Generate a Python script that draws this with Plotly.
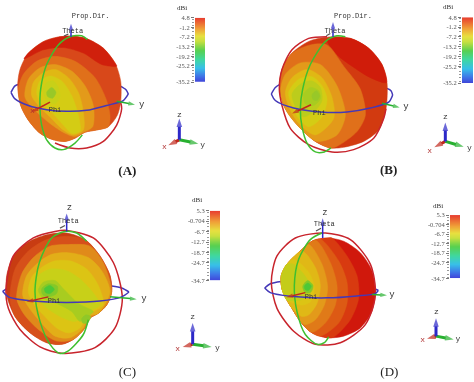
import plotly.graph_objects as go

# ---------- Gain scale (dBi) ----------
GAIN_TICKS_AB = [4.8, -1.2, -7.2, -13.2, -19.2, -25.2, -35.2]
GAIN_LABELS_AB = ["4.8", "-1.2", "-7.2", "-13.2", "-19.2", "-25.2", "-35.2"]
GAIN_TICKS_CD = [5.3, -0.704, -6.7, -12.7, -18.7, -24.7, -34.7]
GAIN_LABELS_CD = ["5.3", "-0.704", "-6.7", "-12.7", "-18.7", "-24.7", "-34.7"]
MEAN_MARK_AB = -20.2
MEAN_MARK_CD = -17.2

# ---------- Pattern outlines and iso-gain contours, per panel ----------
A_BODY = [(210,98),(260,106),(310,135),(345,180),(362,235),(362,300),(352,340),(325,375),(290,385),(255,392),(225,410),(195,420),(160,415),(120,395),(85,355),(62,310),(53,250),(60,200),(85,150),(130,115),(170,102)]
A_BANDS = [
 [(72,168),(130,140),(190,133),(250,150),(305,185),(350,190),(345,180),(310,135),(260,106),(210,98),(170,102),(130,115),(85,150)],
 [(55,260),(70,215),(110,175),(165,160),(225,175),(285,225),(318,290),(330,340),(325,375),(290,385),(255,392),(225,410),(195,420),(160,415),(120,395),(85,355),(62,310)],
 [(75,285),(85,230),(120,195),(165,185),(215,205),(255,250),(280,310),(278,375),(255,390),(225,405),(195,395),(150,365),(105,325)],
 [(95,280),(100,240),(130,210),(165,200),(205,225),(235,270),(250,330),(250,385),(220,400),(190,385),(150,345),(115,310)],
 [(110,270),(120,235),(150,220),(185,235),(215,280),(235,340),(240,390),(215,395),(190,370),(150,325),(120,300)],
 [(130,265),(140,240),(160,235),(175,255),(180,285),(165,305),(140,295)],
 [(140,270),(155,255),(168,270),(158,288),(143,283)],
]
A_BAND_GAINS = [3.8, 0.5, -2.5, -5.5, -8.0, -11.0, -13.5]

B_BODY = [(285,100),(340,105),(395,135),(435,185),(450,240),(447,320),(425,385),(380,420),(320,438),(280,440),(235,420),(195,385),(165,350),(140,310),(128,250),(135,200),(165,150),(220,112)]
B_BANDS = [
 [(270,108),(340,105),(395,135),(435,185),(448,240),(400,225),(345,190),(300,155)],
 [(128,255),(135,200),(165,150),(220,125),(270,125),(320,190),(370,260),(385,340),(360,390),(300,435),(280,440),(235,420),(195,385),(165,350),(140,310)],
 [(130,270),(145,215),(190,180),(250,185),(300,250),(325,340),(300,400),(240,420),(195,385),(150,330)],
 [(145,270),(165,225),(210,200),(255,225),(285,285),(290,350),(235,400),(190,370),(160,325)],
 [(155,270),(185,230),(225,222),(255,250),(270,290),(255,345),(215,375),(185,350),(165,310)],
 [(165,275),(190,245),(225,235),(250,255),(255,295),(235,325),(200,345),(178,320)],
 [(200,275),(220,255),(245,265),(250,290),(230,310),(205,305)],
 [(225,278),(238,265),(248,280),(240,295),(228,292)],
]
B_BAND_GAINS = [4.3, 0.5, -2.5, -5.5, -8.0, -10.0, -12.0, -13.5]

C_BODY = [(200,130),(255,150),(300,200),(330,260),(335,310),(320,350),(295,375),(270,390),(255,420),(220,455),(185,470),(140,465),(90,435),(45,385),(20,320),(20,260),(40,200),(80,160),(140,135)]
C_BANDS = [
 [(30,330),(45,240),(85,185),(140,150),(200,140),(255,150),(300,200),(330,260),(335,310),(320,350),(295,375),(270,390),(255,420),(220,455),(185,470),(140,465),(90,435),(45,385)],
 [(50,330),(65,255),(100,205),(150,170),(205,165),(270,170),(310,220),(335,310),(320,350),(295,375),(270,390),(255,420),(220,455),(170,460),(110,420),(70,375)],
 [(68,320),(80,260),(115,220),(155,195),(205,190),(265,205),(305,245),(330,310),(295,375),(265,385),(250,420),(210,450),(165,445),(120,400),(85,355)],
 [(85,310),(95,265),(125,235),(165,215),(210,215),(260,240),(295,290),(310,350),(280,370),(260,385),(240,420),(205,435),(170,420),(130,380),(100,345)],
 [(100,305),(110,265),(150,240),(200,245),(240,270),(285,320),(300,350),(265,370),(240,395),(220,400),(180,385),(130,350)],
 [(115,305),(130,280),(165,275),(190,300),(235,345),(280,370),(262,385),(240,400),(215,370),(170,345),(130,330)],
 [(245,392),(258,380),(272,385),(262,405),(248,405)],
 [(125,300),(145,285),(172,292),(170,315),(145,325),(128,318)],
 [(133,300),(150,290),(163,302),(150,315),(137,312)],
]
C_BAND_GAINS = [1.5, -2.0, -4.5, -7.0, -9.5, -11.5, -13.0, -14.0, -18.0]

D_BODY = [(270,145),(320,155),(370,190),(405,245),(415,310),(405,370),(370,420),(320,445),(270,450),(225,435),(190,400),(165,360),(150,335),(135,300),(133,260),(150,225),(185,190),(225,155)]
D_BANDS = [
 [(285,145),(330,200),(360,260),(365,330),(340,395),(290,448),(270,450),(225,435),(190,400),(165,360),(150,335),(135,300),(133,260),(150,225),(185,190),(225,155),(270,145)],
 [(250,148),(305,215),(330,280),(330,345),(305,405),(250,445),(225,435),(190,400),(165,360),(150,335),(135,300),(133,260),(150,225),(185,190),(225,155)],
 [(235,152),(280,220),(300,290),(295,350),(265,405),(225,433),(190,400),(165,360),(150,335),(135,300),(133,260),(150,225),(185,190)],
 [(215,165),(255,225),(272,295),(262,350),(235,395),(205,410),(190,400),(165,360),(150,335),(135,300),(133,260),(150,225),(185,190)],
 [(195,185),(235,235),(250,290),(240,345),(215,380),(195,385),(165,360),(150,335),(135,300),(133,260),(150,225)],
 [(170,210),(215,250),(232,295),(220,340),(195,350),(175,345),(150,335),(135,300),(133,260),(150,225)],
 [(150,225),(133,260),(135,300),(150,335),(190,335),(218,320),(220,290),(200,255),(170,225)],
 [(197,293),(212,275),(228,290),(222,310),(205,312)],
 [(202,293),(212,283),(223,292),(215,305),(205,303)],
]
D_BAND_GAINS = [4.0, 2.0, 0.0, -2.5, -5.0, -7.0, -9.0, -14.0, -18.0]

# ---------- Rings ----------
A_BLUE_BACK = [(33,270),(45,250),(58,245)]
A_BLUE_BACK2 = [(360,250),(378,262),(385,275)]
A_BLUE = [(33,270),(45,290),(85,310),(140,323),(200,328),(260,325),(320,310),(370,295),(385,275)]
A_RED = [(362,300),(365,320),(350,370),(310,420),(260,440),(210,440),(165,425)]
A_GREEN = [(247,400),(225,425),(190,445),(165,440),(140,415),(125,370),(120,320),(122,260),(140,185),(175,125),(210,100),(245,97),(262,108)]

B_BLUE_BACK = [(103,275),(115,255),(130,245)]
B_BLUE_BACK2 = [(450,258),(462,265),(467,278)]
B_BLUE = [(103,275),(115,295),(170,318),(250,330),(330,330),(400,318),(455,300),(467,278)]
B_RED = [(270,100),(215,105),(165,140),(135,200),(127,260),(135,310),(160,380),(215,430),(285,452),(350,445),(410,410),(440,350),(447,320)]
B_GREEN = [(282,440),(262,452),(235,452),(210,425),(195,375),(190,320),(197,260),(220,185),(265,115),(300,97),(325,100)]

C_BLUE_BACK = [(8,308),(20,300)]
C_BLUE_BACK2 = [(335,292),(365,298),(387,310)]
C_BLUE = [(8,308),(25,325),(100,338),(200,342),(300,338),(365,325),(387,310)]
C_RED = [(200,122),(280,145),(340,220),(367,330),(345,420),(285,480),(190,498),(120,478),(60,425),(25,360),(18,300),(40,200),(100,145),(165,125),(200,122)]
C_GREEN = [(265,395),(250,440),(205,490),(180,498),(150,470),(120,400),(105,310),(118,220),(155,145),(195,125),(230,130),(260,155)]

D_BLUE_BACK = [(83,298),(100,285),(133,278)]
D_BLUE_BACK2 = [(405,298),(424,305)]
D_BLUE = [(83,298),(100,312),(180,325),(270,328),(360,322),(415,315),(424,305)]
D_RED = [(265,130),(340,150),(400,225),(415,320),(385,410),(310,465),(235,470),(170,430),(120,360),(103,280),(120,200),(175,145),(265,130)]
D_GREEN = [(275,447),(262,465),(240,470),(205,440),(180,370),(172,290),(185,210),(220,150),(255,130)]

# ---------- Axes on the pattern ----------
A_AXES = dict(z=[(213,100),(213,60)], y=[(350,297),(405,308)], x=[(150,300),(95,330)])
B_AXES = dict(z=[(288,100),(288,55)], y=[(435,303),(488,316)], x=[(222,308),(165,335)])
C_AXES = dict(z=[(200,125),(200,70)], y=[(330,325),(410,332)], x=[(145,325),(80,340)])
D_AXES = dict(z=[(257,145),(257,85)], y=[(405,318),(450,320)], x=[(205,312),(148,326)])
A_THETA_TICK = [(192,98),(205,92)]
B_THETA_TICK = [(268,97),(280,90)]
C_THETA_TICK = [(180,115),(195,107)]
D_THETA_TICK = [(237,124),(252,115)]

A_TRIAD = dict(z=[(538,415),(538,350)], y=[(538,415),(595,427)], x=[(538,415),(505,432)])
B_TRIAD = dict(z=[(625,420),(625,362)], y=[(625,420),(680,436)], x=[(625,420),(592,438)])
C_TRIAD = dict(z=[(578,470),(578,405)], y=[(578,470),(635,478)], x=[(578,470),(548,478)])
D_TRIAD = dict(z=[(597,445),(597,390)], y=[(597,445),(650,455)], x=[(597,445),(570,453)])

# ---------- Texts ----------
A_TEXT = [("Prop.Dir.",272,38,"m"),("Theta",218,84,"m"),("Phi",165,325,"m"),("y",425,308,"a"),("x",97,326,"r"),
          ("z",538,338,"b"),("y",608,431,"g"),("x",493,436,"r"),("(A)",382,512,"B")]
B_TEXT = [("Prop.Dir.",348,36,"m"),("Theta",294,82,"m"),("Phi",247,334,"m"),("y",507,314,"a"),
          ("z",625,344,"b"),("y",697,441,"g"),("x",578,448,"r"),("(B)",455,510,"B")]
C_TEXT = [("z",208,53,"a"),("Theta",205,93,"m"),("Phi",162,338,"m"),("y",432,331,"a"),
          ("z",578,388,"b"),("y",652,481,"g"),("x",533,483,"r"),("(C)",382,558,"S")]
D_TEXT = [("z",264,68,"a"),("Theta",262,104,"m"),("Phi",222,325,"m"),("y",465,318,"a"),
          ("z",598,370,"b"),("y",663,453,"g"),("x",557,456,"r"),("(D)",457,558,"S")]

# ---------- Style ----------
RED, GREEN, BLUE = "#c8242c", "#3fbf2f", "#4438b8"
AX_COL = dict(x="#c0281c", y="#28b030", z="#2c28c8")
TEXT_FONT = dict(m=dict(family="Liberation Mono", size=7, color="#333"),
                 a=dict(family="Liberation Mono", size=9, color="#333"),
                 r=dict(family="Liberation Mono", size=8, color="#b03030"),
                 g=dict(family="Liberation Mono", size=8, color="#333"),
                 b=dict(family="Liberation Mono", size=8, color="#333"),
                 B=dict(family="Liberation Serif", size=13, color="#222"),
                 S=dict(family="Liberation Serif", size=13, color="#222"))
COLOR_STOPS = [(0.0, "#4040d8"), (0.1, "#3f78e8"), (0.22, "#38c0e8"), (0.36, "#40d8a0"),
               (0.5, "#58d050"), (0.64, "#c8e040"), (0.72, "#e8e040"), (0.84, "#f0a038"), (1.0, "#e84030")]
SURFACE = [(4.3,"#d01c0a"),(4.0,"#d83a10"),(3.8,"#d0200c"),(2.0,"#dd5a14"),(1.5,"#d6501a"),(0.5,"#e0701a"),(0.0,"#e07a18"),
           (-2.0,"#e08a1a"),(-2.5,"#e39a1a"),(-4.5,"#e2ae18"),(-5.0,"#e0b816"),(-5.5,"#e0b814"),(-7.0,"#dcc414"),
           (-8.0,"#d4cc14"),(-9.0,"#c4cc1a"),(-9.5,"#c8d018"),(-10.0,"#bccc1c"),(-11.0,"#c8d018"),(-11.5,"#a8cc20"),
           (-12.0,"#a8cc20"),(-13.0,"#90c828"),(-13.5,"#98c828"),(-14.0,"#84c828"),(-18.0,"#4cc838")]
SURF = dict(SURFACE)
SMOOTH = 0.8

FIG_W, FIG_H = 474, 382
fig = go.Figure()

def xs(p): return [a for a, _ in p]
def ys(p): return [b for _, b in p]

def closed(p): return p + [p[0]] if p[0] != p[-1] else p

def ring(p, col, ax, width=1.5):
    fig.add_trace(go.Scatter(x=xs(p), y=ys(p), mode="lines", line=dict(color=col, width=width, shape="spline", smoothing=SMOOTH),
                             xaxis=f"x{ax}", yaxis=f"y{ax}", hoverinfo="skip", showlegend=False))

def arrow(p, col, ax, width, size):
    fig.add_trace(go.Scatter(x=xs(p), y=ys(p), mode="lines+markers", line=dict(color=col, width=width),
                             marker=dict(symbol="arrow", size=[0, size], color=col, angleref="previous", line=dict(width=0)),
                             xaxis=f"x{ax}", yaxis=f"y{ax}", hoverinfo="skip", showlegend=False, cliponaxis=False))

def panel(ax, body, base, bands, gains, back, back2, blue, red, green, axes, triad, texts, tick):
    ring(back, BLUE, ax); ring(back2, BLUE, ax)
    p = closed(body)
    fig.add_trace(go.Scatter(x=xs(p), y=ys(p), mode="lines", fill="toself", fillcolor=base,
                             line=dict(color=base, width=0.5, shape="spline", smoothing=SMOOTH), xaxis=f"x{ax}", yaxis=f"y{ax}",
                             hoverinfo="skip", showlegend=False))
    for band, g in zip(bands, gains):
        b = closed(band)
        fig.add_trace(go.Scatter(x=xs(b), y=ys(b), mode="lines", fill="toself", fillcolor=SURF[g],
                                 line=dict(color=SURF[g], width=0.5, shape="spline", smoothing=SMOOTH), xaxis=f"x{ax}", yaxis=f"y{ax}",
                                 hoverinfo="skip", showlegend=False))
    ring(red, RED, ax)
    ring(green, GREEN, ax); ring(blue, BLUE, ax)
    ring(tick, "#555555", ax, 1.2)
    for k in "zyx":
        arrow(axes[k], AX_COL[k], ax, 1.5, 7)
    for k in "xyz":
        arrow(triad[k], AX_COL[k], ax, 3, 9)
    for t, x, y, f in texts:
        fig.add_trace(go.Scatter(x=[x], y=[y], mode="text", text=[f"<b>{t}</b>" if f == "B" else t],
                                 textfont=TEXT_FONT[f], textposition="middle center", xaxis=f"x{ax}", yaxis=f"y{ax}",
                                 hoverinfo="skip", showlegend=False, cliponaxis=False))

def cbar(ax, ticks, labels, mean, x0, x1, y0, y1, title_xy):
    lo, hi = ticks[-1], ticks[0]
    fig.add_trace(go.Heatmap(x=[0, 1], y=ticks, z=[[t, t] for t in ticks], zmin=lo, zmax=hi, zsmooth="best",
                             colorscale=[list(s) for s in COLOR_STOPS], showscale=False, hoverinfo="skip",
                             xaxis=f"x{ax}", yaxis=f"y{ax}"))
    fig.add_trace(go.Scatter(x=[-0.12, -0.12], y=[hi, mean], mode="markers",
                             marker=dict(symbol=["square", "triangle-right"], size=[6, 7], color="#333"),
                             xaxis=f"x{ax}", yaxis=f"y{ax}", cliponaxis=False, hoverinfo="skip", showlegend=False))
    fig.layout[f"xaxis{ax}"] = dict(domain=[x0/FIG_W, x1/FIG_W], range=[0, 1], visible=False, fixedrange=True, anchor=f"y{ax}")
    fig.layout[f"yaxis{ax}"] = dict(domain=[1-y1/FIG_H, 1-y0/FIG_H], range=[lo, hi], tickmode="array", tickvals=ticks, ticktext=labels,
                                    ticks="outside", ticklen=3, tickcolor="#777", tickwidth=1, showgrid=False, zeroline=False,
                                    showline=False, tickfont=dict(family="Liberation Serif", size=6.5, color="#555"),
                                    minor=dict(ticks="outside", ticklen=2, tickcolor="#999", dtick=2), anchor=f"x{ax}", fixedrange=True)
    fig.add_annotation(text="dBi", x=title_xy[0]/FIG_W, y=1-title_xy[1]/FIG_H, xref="paper", yref="paper", showarrow=False,
                       font=dict(family="Liberation Serif", size=7, color="#333"), xanchor="center", yanchor="middle")

panel(1, A_BODY, "#d8481a", A_BANDS, A_BAND_GAINS, A_BLUE_BACK, A_BLUE_BACK2, A_BLUE, A_RED, A_GREEN, A_AXES, A_TRIAD, A_TEXT, A_THETA_TICK)
panel(2, B_BODY, "#d23a10", B_BANDS, B_BAND_GAINS, B_BLUE_BACK, B_BLUE_BACK2, B_BLUE, B_RED, B_GREEN, B_AXES, B_TRIAD, B_TEXT, B_THETA_TICK)
panel(3, C_BODY, "#c83c12", C_BANDS, C_BAND_GAINS, C_BLUE_BACK, C_BLUE_BACK2, C_BLUE, C_RED, C_GREEN, C_AXES, C_TRIAD, C_TEXT, C_THETA_TICK)
panel(4, D_BODY, "#d0180c", D_BANDS, D_BAND_GAINS, D_BLUE_BACK, D_BLUE_BACK2, D_BLUE, D_RED, D_GREEN, D_AXES, D_TRIAD, D_TEXT, D_THETA_TICK)

for ax, (cx, cy) in {1: (0, 0), 2: (237, 0), 3: (0, 190), 4: (237, 190)}.items():
    h = 190 if cy == 0 else 192
    fig.layout[f"xaxis{ax}"] = dict(domain=[cx/FIG_W, (cx+237)/FIG_W], range=[0, 711], visible=False, fixedrange=True, anchor=f"y{ax}")
    fig.layout[f"yaxis{ax}"] = dict(domain=[1-(cy+h)/FIG_H, 1-cy/FIG_H], range=[h*3, 0], visible=False, fixedrange=True, anchor=f"x{ax}")

cbar(5, GAIN_TICKS_AB, GAIN_LABELS_AB, MEAN_MARK_AB, 195, 205.5, 14, 79.5, (182, 4))
cbar(6, GAIN_TICKS_AB, GAIN_LABELS_AB, MEAN_MARK_AB, 462, 473, 13.5, 80.5, (448, 3))
cbar(7, GAIN_TICKS_CD, GAIN_LABELS_CD, MEAN_MARK_CD, 210, 220, 210.5, 281.5, (197, 200))
cbar(8, GAIN_TICKS_CD, GAIN_LABELS_CD, MEAN_MARK_CD, 450, 460, 215, 279.5, (438, 206))

fig.update_layout(width=FIG_W, height=FIG_H, margin=dict(l=0, r=0, t=0, b=0), paper_bgcolor="white", plot_bgcolor="rgba(0,0,0,0)", showlegend=False)
fig.write_html("out.html", post_script="document.body.style.margin='0';document.body.style.filter='blur(0.4px)';", config=dict(displayModeBar=False))
